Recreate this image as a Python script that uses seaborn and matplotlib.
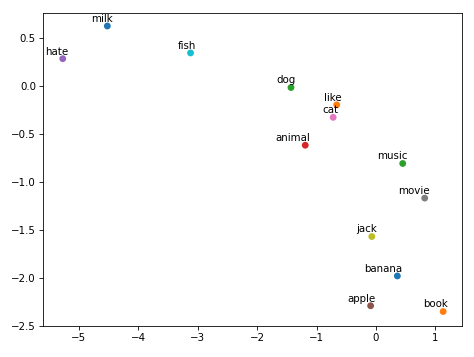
"""
Word embedding scatter: 2-D projection of word vectors with labels.
"""

import pandas as pd
import seaborn as sns
import matplotlib.pyplot as plt

# word list and 2-D coordinates
words = ["banana", "book", "music", "animal", "hate", "apple", "cat",
         "movie", "jack", "fish", "milk", "like", "dog"]
xs = [0.36, 1.13, 0.45, -1.19, -5.27, -0.09, -0.72,
      0.82, -0.07, -3.12, -4.52, -0.66, -1.43]
ys = [-1.98, -2.35, -0.81, -0.62, 0.28, -2.29, -0.33,
      -1.17, -1.57, 0.34, 0.62, -0.20, -0.02]


def main():
    data = pd.DataFrame({"word": words, "x": xs, "y": ys})
    colors = [f"C{i % 10}" for i in range(len(words))]

    fig, ax = plt.subplots(figsize=(474 / 74, 357 / 74), dpi=74)
    fig.subplots_adjust(left=0.091, right=0.975, top=0.964, bottom=0.087)

    sns.scatterplot(x="x", y="y", hue="word", data=data,
                    palette=colors, linewidth=0, s=44,
                    legend=False, ax=ax)

    for word, x, y in zip(words, xs, ys):
        ax.annotate(word, xy=(x, y), xytext=(5, 2),
                    textcoords="offset points", ha="right", va="bottom")

    ax.set_xlim(-5.6, 1.45)
    ax.set_ylim(-2.5, 0.757)
    ax.set_xlabel("")
    ax.set_ylabel("")
    fig.savefig("out.png", dpi=74)


if __name__ == "__main__":
    main()
